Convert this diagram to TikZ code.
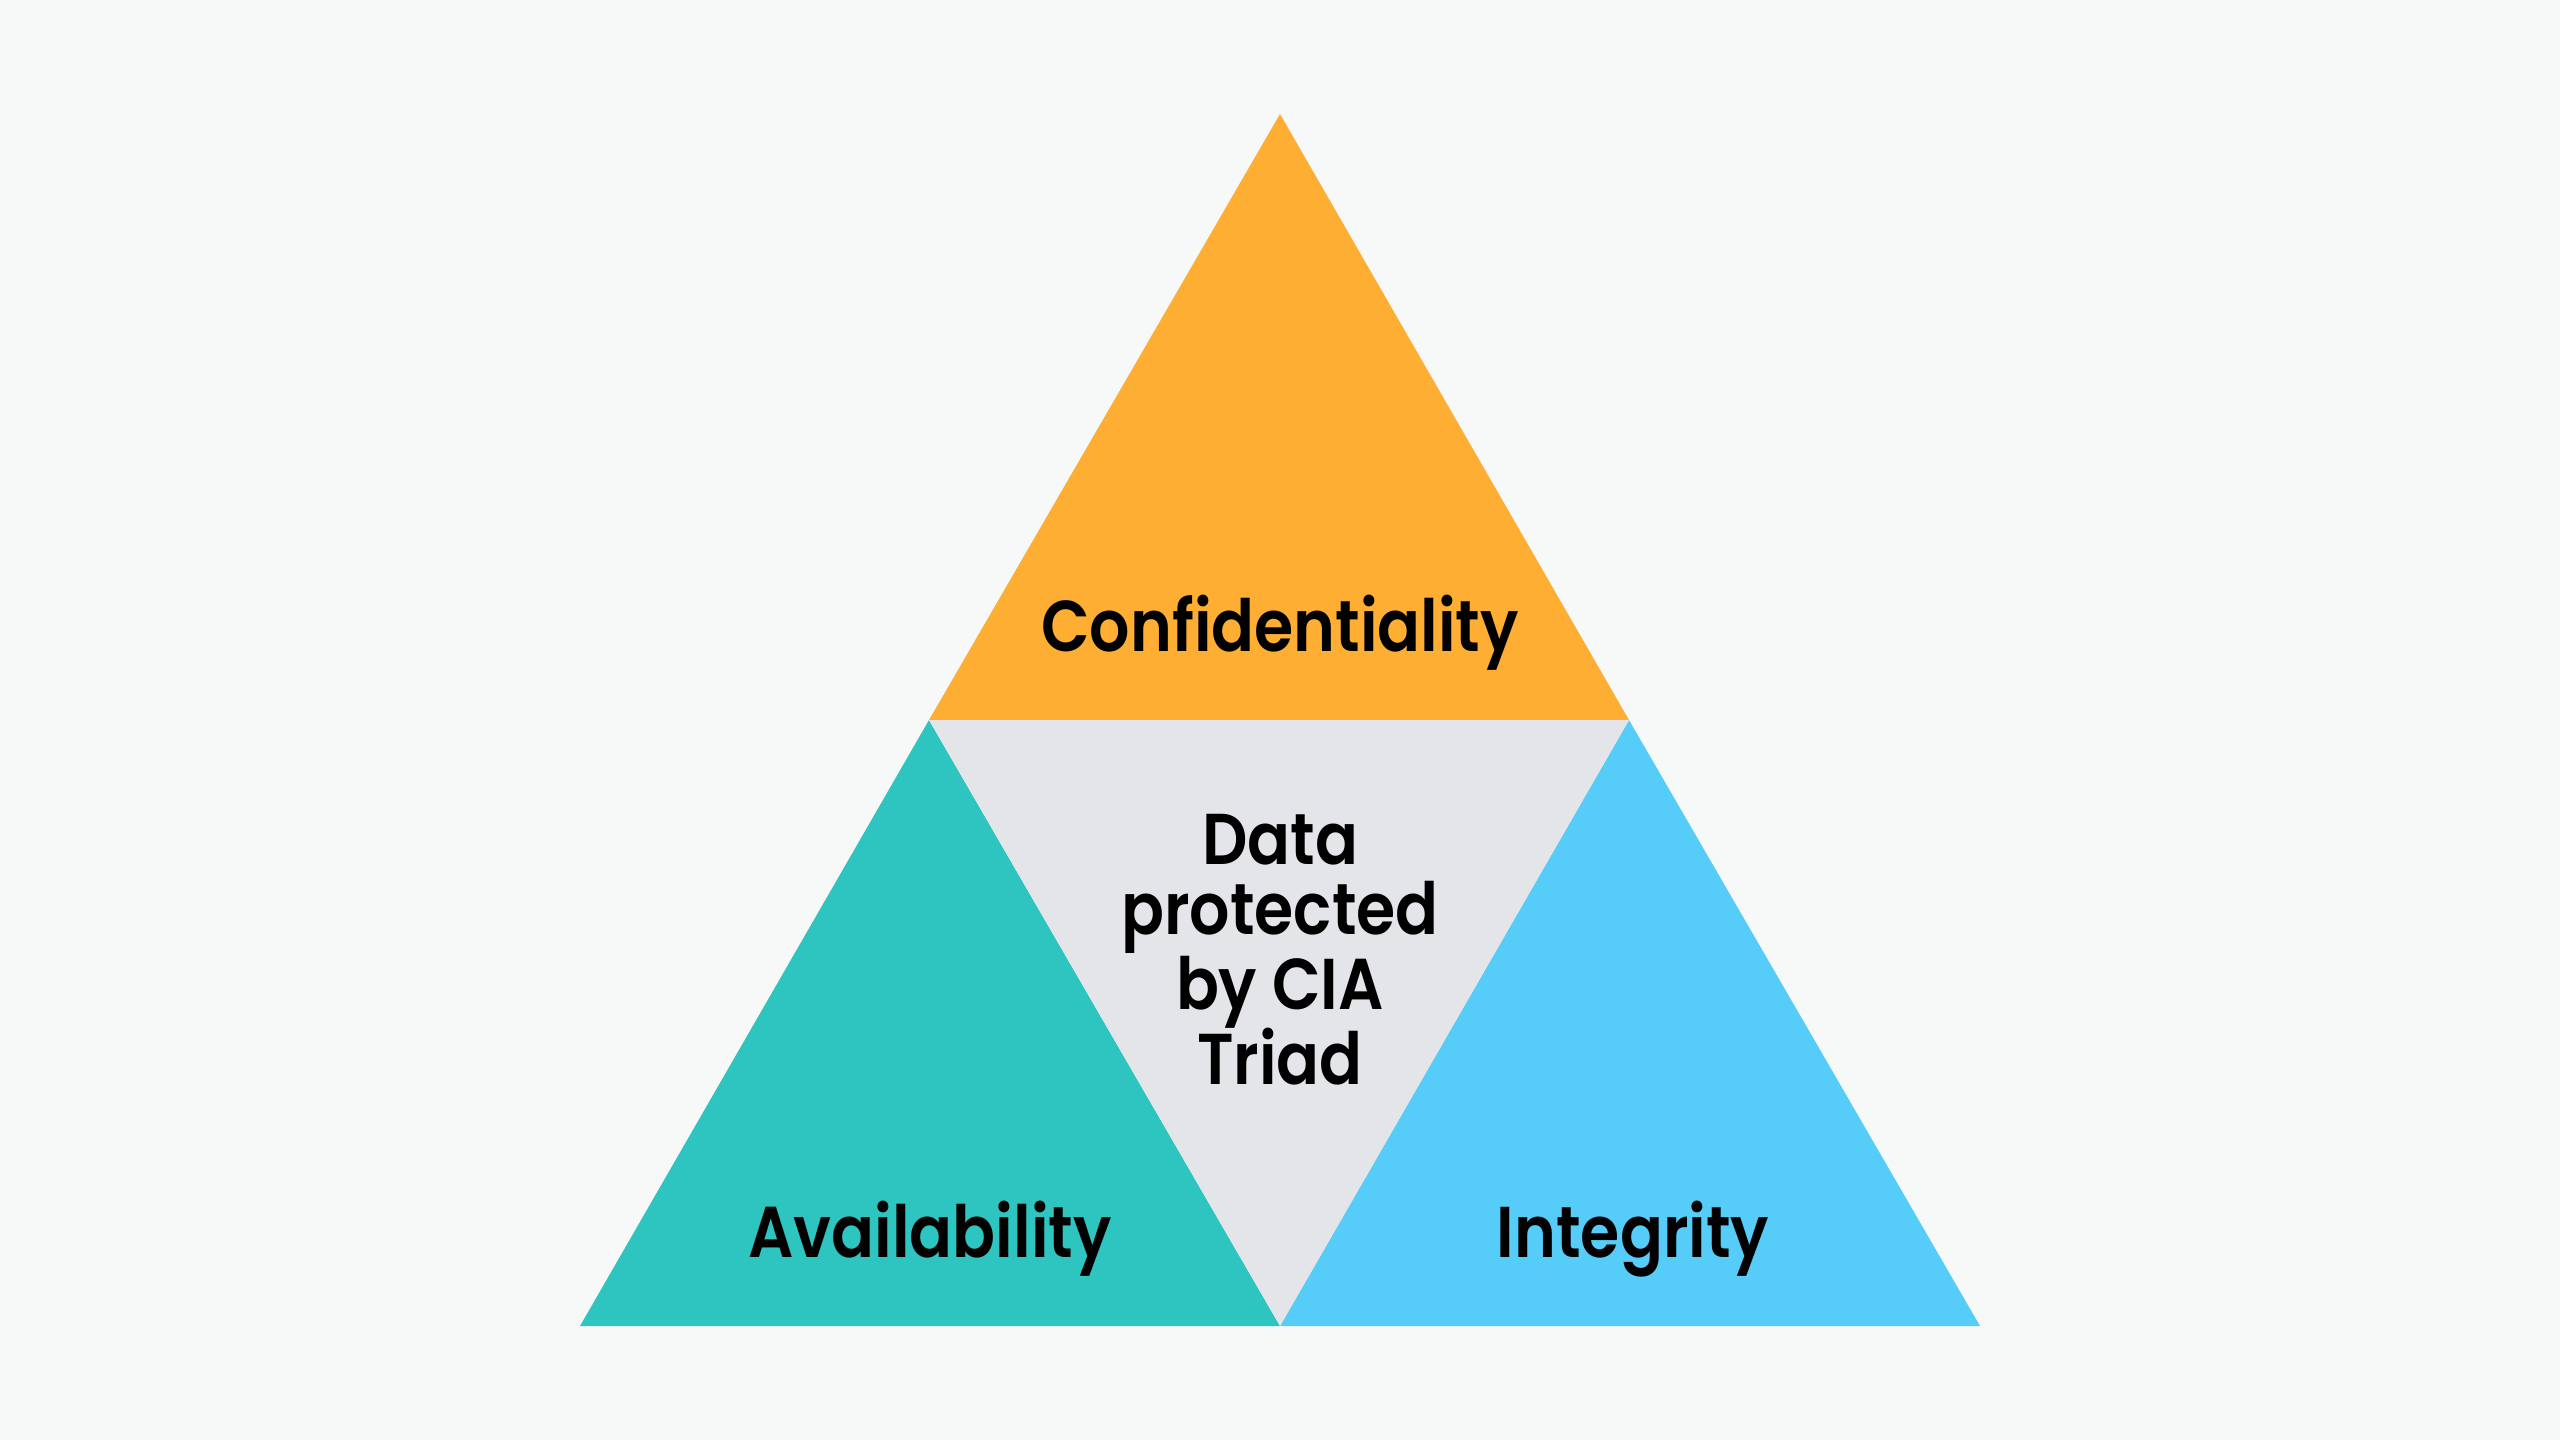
\documentclass[tikz,border=0pt]{standalone}
\usepackage{fontspec}
\setmainfont{Poppins}[UprightFont=* SemiBold, FakeStretch=0.88]
\definecolor{bgc}{HTML}{F7F9F8}
\definecolor{orng}{HTML}{FDAE33}
\definecolor{teal}{HTML}{2EC4C0}
\definecolor{skyb}{HTML}{55CDF8}
\definecolor{gry}{HTML}{E3E5E8}
\begin{document}
\begin{tikzpicture}[x=0.5pt,y=-0.5pt,
  lbl/.style={font=\fontsize{36}{36}\selectfont, text=black, anchor=base, inner sep=0pt}]
\fill[bgc] (0,0) rectangle (2560,1440);
\useasboundingbox (0,0) rectangle (2560,1440);
\coordinate (A) at (1280,114);
\coordinate (L) at (929,720);
\coordinate (R) at (1629,720);
\coordinate (BL) at (580,1326);
\coordinate (BM) at (1280,1326);
\coordinate (BR) at (1980,1326);
\fill[orng] (A) -- (L) -- (R) -- cycle;
\fill[teal] (L) -- (BL) -- (BM) -- cycle;
\fill[skyb] (R) -- (BM) -- (BR) -- cycle;
\fill[gry] (L) -- (R) -- (BM) -- cycle;
\node[lbl] (conf) at (1280,651) {Confidentiality};
\node[lbl] (avail) at (930,1257) {Availability};
\node[lbl] (integ) at (1633,1257) {Integrity};
\node[lbl] (d1) at (1280,864) {Data};
\node[lbl] (d2) at (1280,934) {protected};
\node[lbl] (d3) at (1280,1009) {by CIA};
\node[lbl] (d4) at (1280,1084) {Triad};
\end{tikzpicture}
\end{document}
